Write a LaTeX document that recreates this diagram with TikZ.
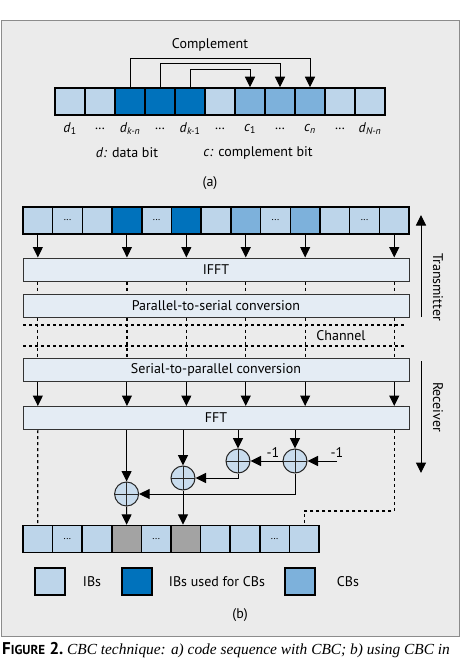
\documentclass[tikz,border=0pt]{standalone}
\usepackage{fontspec}
\setmainfont{PT Sans}
\newfontfamily\capserif{Liberation Serif}
\usetikzlibrary{arrows.meta}

\definecolor{panelgrey}{HTML}{EBEBEB}
\definecolor{ibblue}{HTML}{BDD5EA}
\definecolor{cbblue}{HTML}{7DB1DB}
\definecolor{usedblue}{HTML}{0072BC}
\definecolor{zerogrey}{HTML}{A3A3A3}
\definecolor{blockfill}{HTML}{E4ECF4}
\definecolor{xorfill}{HTML}{C9DCED}

\newcommand{\bitlab}[2]{\textit{#1}\textsubscript{#2}}
\newcommand{\elp}{.\kern0.5pt.\kern0.5pt.}

\tikzset{
  bitcell/.style={draw=black, line width=1.5pt, fill=#1, minimum width=29.7pt,
    minimum height=27pt, inner sep=0pt, font=\fontsize{10}{11}\selectfont},
  blockbox/.style={draw=black!80, line width=1pt, fill=blockfill, minimum width=386pt,
    minimum height=23pt, inner sep=0pt},
  xorc/.style={circle, draw=black!85, line width=1pt, fill=xorfill, minimum size=24pt,
    inner sep=0pt, path picture={\draw[line width=0.8pt]
      (path picture bounding box.north) -- (path picture bounding box.south)
      (path picture bounding box.west) -- (path picture bounding box.east);}},
  sig/.style={line width=1pt, -{Triangle[length=10.5pt, width=10pt]}},
  dsh/.style={line width=1.2pt, dash pattern=on 3pt off 3pt},
}

\begin{document}
\begin{tikzpicture}[x=1pt, y=-1pt, font=\fontsize{14}{16}\selectfont]
  \useasboundingbox (0,0) rectangle (474,663);
  \draw[draw=black!45, fill=panelgrey, line width=1pt] (1,20.5) rectangle (459,636);

  % (a) code sequence
  \node (compl) at (210,45) {Complement};
  \foreach \c/\t [count=\i] in {ibblue/{\bitlab{d}{1}}, ibblue/\elp, usedblue/{\bitlab{d}{\textit{k-n}}},
      usedblue/\elp, usedblue/{\bitlab{d}{\textit{k-}1}}, ibblue/\elp, cbblue/{\bitlab{c}{1}},
      cbblue/\elp, cbblue/{\bitlab{c}{\textit{n}}}, ibblue/\elp, ibblue/{\bitlab{d}{\textit{N-n}}}} {
    \node[bitcell=\c, minimum width=30pt] (a\i) at (40+30*\i,101.5) {};
    \node (la\i) at (40+30*\i,129) {\t};
  }
  \draw[sig] (a3.north) -- ++(0,-29) -| (a9.north);
  \draw[sig] (a4.north) -- ++(0,-24) -| (a8.north);
  \draw[sig] (a5.north) -- ++(0,-18) -| (a7.north);
  \node (dkey) at (127,153) {\textit{d:} data bit};
  \node (ckey) at (258,153) {\textit{c:} complement bit};
  \node (tagA) at (210,183) {(a)};

  % (b) transmitter / receiver chain
  \foreach \c/\t [count=\i] in {ibblue/, ibblue/\elp, ibblue/, usedblue/, ibblue/\elp, usedblue/,
      ibblue/, cbblue/, ibblue/\elp, cbblue/, ibblue/, ibblue/\elp, ibblue/} {
    \node[bitcell=\c] (t\i) at (8.15+29.7*\i,220.5) {\t};
  }
  \node[blockbox] (ifft) at (216,269.5) {IFFT};
  \node[blockbox] (ps) at (216,305.5) {Parallel-to-serial conversion};
  \node[blockbox] (sp) at (216,369.5) {Serial-to-parallel conversion};
  \node[blockbox] (fft) at (216,418) {FFT};
  \foreach \i in {1,4,6,8,10,13} {
    \draw[sig] (t\i.south) -- (t\i.south |- ifft.north);
    \draw[dsh] (t\i.south |- ifft.south) -- (t\i.south |- ps.north);
    \draw[dsh] (t\i.south |- ps.south) -- (t\i.south |- sp.north);
    \draw[sig] (t\i.south |- sp.south) -- (t\i.south |- fft.north);
  }
  \draw[dsh] (23,325) -- (404,325);
  \draw[dsh] (23,346) -- (404,346);
  \node (chan) at (341,336) {Channel};

  \coordinate (txs) at (421,317);
  \coordinate (txe) at (421,215);
  \draw[sig] (txs) -- (txe);
  \node[rotate=-90] (txlab) at (438,287) {Transmitter};
  \coordinate (rxs) at (421,361);
  \coordinate (rxe) at (421,473);
  \draw[sig] (rxs) -- (rxe);
  \node[rotate=-90] (rxlab) at (438,407) {Receiver};

  % decoding
  \foreach \c/\t [count=\i] in {ibblue/, ibblue/\elp, ibblue/, zerogrey/, ibblue/\elp, zerogrey/,
      ibblue/, ibblue/, ibblue/\elp, ibblue/} {
    \node[bitcell=\c, minimum width=29.6pt] (b\i) at (8.2+29.6*\i,539) {\t};
  }
  \node[xorc] (x1) at (126.6,494) {};
  \node[xorc] (x2) at (183,478) {};
  \node[xorc] (x3) at (238,461) {};
  \node[xorc] (x4) at (295,461) {};
  \coordinate (m1) at (337,461);
  \coordinate (dlev) at (0,511);
  \draw[sig] (x1 |- fft.south) -- (x1.north);
  \draw[sig] (x2 |- fft.south) -- (x2.north);
  \draw[sig] (x3 |- fft.south) -- (x3.north);
  \draw[sig] (x4 |- fft.south) -- (x4.north);
  \draw[sig] (m1) node[above, yshift=0pt] {-1} -- (x4.east);
  \draw[sig] (x4.west) -- node[pos=0.3, above, yshift=0pt] {-1} (x3.east);
  \draw[sig] (x3.south) |- (x2.east);
  \draw[sig] (x4.south) |- (x1.east);
  \draw[sig] (x1.south) -- (b4.north);
  \draw[sig] (x2.south) -- (x2.south |- b6.north);
  \draw[dsh] (t1.south |- fft.south) -- (b1.north);
  \draw[dsh] (t13.south |- fft.south) |- (b10.north |- dlev) -- (b10.north);

  % legend
  \node[bitcell=ibblue, minimum width=30pt] (k1) at (50,581.5) {};
  \node (k1t) at (92,581.5) {IBs};
  \node[bitcell=usedblue, minimum width=30pt] (k2) at (137,581.5) {};
  \node (k2t) at (217,581.5) {IBs used for CBs};
  \node[bitcell=cbblue, minimum width=30pt] (k3) at (300,581.5) {};
  \node (k3t) at (348,581.5) {CBs};
  \node (tagB) at (240,615) {(b)};

  \node[anchor=west, inner sep=0pt] (capt) at (2,650)
    {{\fontsize{17}{18}\selectfont\bfseries F}{\fontsize{13}{14}\selectfont\bfseries IGURE}%
     {\fontsize{17}{18}\selectfont\bfseries\ 2.}\ %
     {\capserif\itshape\fontsize{15.4}{17}\selectfont CBC technique: a) code sequence with CBC; b) using CBC in}};
\end{tikzpicture}
\end{document}
